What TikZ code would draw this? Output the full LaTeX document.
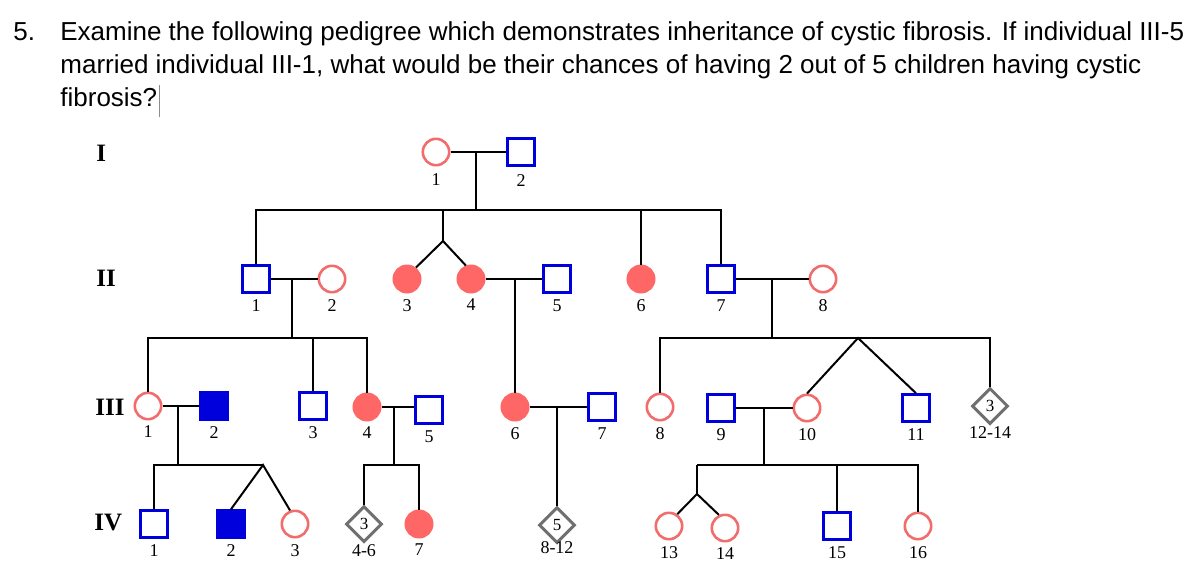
\documentclass[tikz,border=0pt]{standalone}
\usepackage{fontspec}
\setmainfont{Liberation Serif}
\newfontfamily\qfont{Liberation Sans}
\usepackage{tikz}
\usetikzlibrary{shapes.geometric}

\definecolor{cfpink}{RGB}{242,108,108}
\definecolor{cffill}{RGB}{255,102,102}
\definecolor{cfblue}{RGB}{0,0,220}
\definecolor{cfgray}{RGB}{112,112,112}

\tikzstyle{Line} = [line width=1pt, black]
\tikzstyle{qtext} = [font=\qfont\fontsize{13}{15}\selectfont, inner sep=0pt]
\tikzstyle{caret} = [line width=0.6pt, black!45]
\tikzstyle{gen} = [font=\bfseries\fontsize{12.5}{12.5}\selectfont, inner sep=0pt]
\tikzstyle{num} = [font=\fontsize{9}{9}\selectfont, inner sep=0pt]
\tikzstyle{female} = [circle, draw=cfpink, line width=1.3pt, minimum size=13.2pt, inner sep=0pt]
\tikzstyle{male} = [rectangle, draw=cfblue, line width=1.5pt, minimum size=13.3pt, inner sep=0pt]
\tikzstyle{afffemale} = [female, draw=cffill, fill=cffill]
\tikzstyle{affmale} = [male, fill=cfblue]
\tikzstyle{group} = [diamond, draw=cfgray, line width=1.5pt, minimum size=18pt, inner sep=0pt, font=\fontsize{8.5}{8.5}\selectfont]

\begin{document}
\begin{tikzpicture}[x=0.5pt, y=-0.5pt, every label/.style={num}, label distance=2.6pt]
\useasboundingbox (0,0) rectangle (1196,586);

% question
\node[qtext, anchor=base west] (qn) at (13,40) {5.};
\node[qtext, anchor=base west] (q1) at (60,40) {Examine the following pedigree which demonstrates inheritance of cystic fibrosis. If individual III-5};
\node[qtext, anchor=base west] (q2) at (60,73) {married individual III-1, what would be their chances of having 2 out of 5 children having cystic};
\node[qtext, anchor=base west] (q3) at (60,106) {fibrosis?};
\draw[caret] ([xshift=0.8pt,yshift=-5.5pt]q3.base east) -- ++(0,-32);

% generations
\node[gen, anchor=west] (gI) at (96,153) {I};
\node[gen, anchor=west] (gII) at (96,278) {II};
\node[gen, anchor=west] (gIII) at (95,407) {III};
\node[gen, anchor=west] (gIV) at (94,522) {IV};

% I
\node[female, label={[label distance=3.6pt]below:1}] (I1) at (436,152) {};
\node[male, label={[label distance=3.6pt]below:2}] (I2) at (521,152) {};

% II
\node[male, label=below:1] (II1) at (256,279) {};
\node[female, label=below:2] (II2) at (332,279) {};
\node[afffemale, label=below:3] (II3) at (407,279) {};
\node[afffemale, label=below:4] (II4) at (471,279) {};
\node[male, label=below:5] (II5) at (557,279) {};
\node[afffemale, label=below:6] (II6) at (641,279) {};
\node[male, label=below:7] (II7) at (721,279) {};
\node[female, label=below:8] (II8) at (823,279) {};

% III
\node[female, label=below:1] (III1) at (148,406) {};
\node[affmale, label=below:2] (III2) at (214,406) {};
\node[male, label=below:3] (III3) at (313,406) {};
\node[afffemale, label=below:4] (III4) at (367,407) {};
\node[male, label=below:5] (III5) at (429,410) {};
\node[afffemale, label=below:6] (III6) at (515,407) {};
\node[male, label=below:7] (III7) at (602,407) {};
\node[female, label=below:8] (III8) at (660,407) {};
\node[male, label=below:9] (III9) at (721,408) {};
\node[female, label=below:10] (III10) at (807,408) {};
\node[male, label=below:11] (III11) at (916,408) {};
\node[group, label={[label distance=0.2pt]below:12-14}] (III12) at (990,406) {3};

% IV
\node[male, label=below:1] (IV1) at (154,524) {};
\node[affmale, label=below:2] (IV2) at (231,524) {};
\node[female, label=below:3] (IV3) at (295,524) {};
\node[group, label={[label distance=0.2pt]below:4-6}] (IV4) at (364,524) {3};
\node[afffemale, label=below:7] (IV7) at (419,524) {};
\node[group, label={[label distance=-1.6pt]below:8-12}] (IV8) at (557,525) {5};
\node[female, label=below:13] (IV13) at (669,526) {};
\node[female, label=below:14] (IV14) at (725,528) {};
\node[male, label=below:15] (IV15) at (837,526) {};
\node[female, label=below:16] (IV16) at (918,526) {};

% junctions
\coordinate (sI) at (476,210);
\coordinate (tII) at (443,241);
\coordinate (sII1) at (292,338);
\coordinate (sII7) at (772,338);
\coordinate (tIII) at (858,338);
\coordinate (sIII1) at (178,465);
\coordinate (tIV) at (263,465);
\coordinate (sIII4) at (394,465);
\coordinate (sIII9) at (764,465);
\coordinate (tIV13) at (697,494);

% I-1 x I-2
\draw[Line] (I1) -- (I2);
\draw[Line] (sI |- I1) -- (sI);
\draw[Line] (II1.north) |- (sI) -| (II7.north);
\draw[Line] (II6.north) -- (II6.north |- sI);
\draw[Line] (tII |- sI) -- (tII);
\draw[Line] (II3.52) -- (tII) -- (II4.111);

% II-1 x II-2
\draw[Line] (II1) -- (II2);
\draw[Line] (sII1 |- II1) -- (sII1);
\draw[Line] (III1.north) |- (sII1) -| (III4.north);
\draw[Line] (III3.north) -- (III3.north |- sII1);

% II-4 x II-5
\draw[Line] (II4) -- (II5);
\draw[Line] (III6.north) -- (III6.north |- II5);

% II-7 x II-8
\draw[Line] (II7) -- (II8);
\draw[Line] (sII7 |- II7) -- (sII7);
\draw[Line] (III8.north) |- (sII7) -| (III12.north);
\draw[Line] (III10.north) -- (tIII) -- (III11.north);

% III-1 x III-2
\draw[Line] (III1) -- (III2);
\draw[Line] (sIII1 |- III1) -- (sIII1);
\draw[Line] (IV1.north) |- (tIV);
\draw[Line] (IV2.north) -- (tIV) -- (IV3.110);

% III-4 x III-5
\draw[Line] (III4.east) -- (III4.east -| III5.west);
\draw[Line] (sIII4 |- III4) -- (sIII4);
\draw[Line] (IV4.north) |- (sIII4) -| (IV7.north);

% III-6 x III-7
\draw[Line] (III6) -- (III7);
\draw[Line] (IV8.north) -- (IV8.north |- III6);

% III-9 x III-10
\draw[Line] (III9) -- (III10);
\draw[Line] (sIII9 |- III9) -- (sIII9);
\draw[Line] (tIV13 |- sIII9) -| (IV16.north);
\draw[Line] (tIV13 |- sIII9) -- (tIV13);
\draw[Line] (IV15.north) -- (IV15.north |- sIII9);
\draw[Line] (IV13.55) -- (tIV13) -- (IV14.115);
\end{tikzpicture}
\end{document}
